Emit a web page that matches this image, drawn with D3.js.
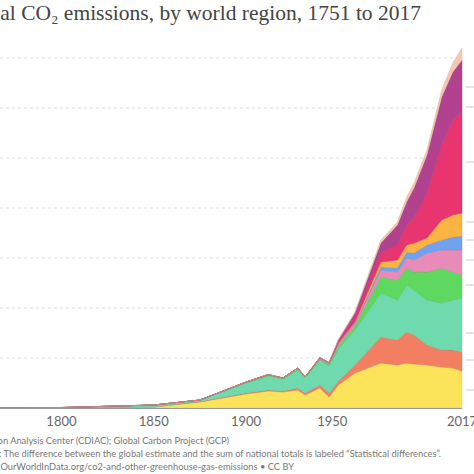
<!DOCTYPE html>
<html>
<head>
<meta charset="utf-8">
<script src="https://cdn.jsdelivr.net/npm/d3@7"></script>
<style>
  body { margin: 0; background: #fff; }
  svg { display: block; }
</style>
</head>
<body>
<div id="chart"></div>
<script>
// values in units of ~140 Mt CO2
const years = [1751, 1800, 1850, 1875, 1900, 1912, 1920, 1928, 1932, 1940, 1945, 1950, 1959, 1973, 1982, 1987, 1991, 1998, 2006, 2012, 2017]
const regions = ["United States", "Europe (other)", "EU-28", "Africa", "Middle East", "South America", "India", "China", "Asia (other)", "International transport"]
const colors = ["#fbe35a", "#f37f62", "#6fdaae", "#5fd85f", "#e98bb8", "#6fa3f0", "#fbb444", "#e9356f", "#b2428f", "#f6c7ae"]
const usa      = [0, 0, 1, 6, 14, 17, 16, 18, 13, 20, 11, 23, 35, 45, 43, 45, 44, 43, 41, 40, 37]
const euOther  = [0, 0, 0, 0.5, 1, 1, 1, 2, 2, 3, 4, 4, 8, 26, 25, 31, 29, 20, 17, 18, 19]
const eu28     = [0.1, 0.5, 2, 1.5, 10, 14, 12, 18, 15, 25, 27, 32, 35, 44, 40, 47, 45, 45, 47, 50, 54]
const africa   = [0, 0, 0, 0, 0.5, 1, 1, 1, 1, 1, 2, 3, 4, 16, 20, 17, 18, 28, 35, 28, 23]
const midEast  = [0, 0, 0, 0, 0.5, 0.5, 0, 1, 0, 1, 1, 2, 2, 7, 8, 10, 12, 19, 18, 22, 25]
const southAm  = [0, 0, 0, 0, 0, 0, 0, 0, 0, 0, 0, 0.5, 1, 3, 4, 6, 7, 8, 10, 13, 14]
const india    = [0, 0, 0, 0, 0, 0, 0, 0, 0, 0, 0, 0.5, 1, 5, 8, 7, 10, 7, 20, 22, 23]
const china    = [0, 0, 0, 0, 0, 0, 0, 0, 0, 0.5, 0.5, 2, 5, 9, 15, 20, 25, 45, 75, 95, 101]
const asiaOth  = [0, 0, 0, 0, 0, 0, 0, 0, 0, 0, 0, 1, 4, 10, 20, 23, 30, 38, 48, 48, 52]
const transport= [0, 0, 0, 0, 0, 0, 0, 0, 0, 0, 0, 0.5, 1, 3, 3, 5, 5, 5, 7, 9, 12]
const series = [usa, euOther, eu28, africa, midEast, southAm, india, china, asiaOth, transport]
const xTicks = [1800, 1850, 1900, 1950, 2017]
const gridTicks = [50, 100, 150, 200, 250, 300, 350]
const legendMarks = [87, 107, 162, 222, 240, 260, 285, 333, 360, 390]

const W = 474, H = 474
const svg = d3.select("#chart").append("svg").attr("width", W).attr("height", H)

const table = years.map((yr, i) => {
    const row = { year: yr }
    regions.forEach((r, j) => row[r] = series[j][i])
    return row
})

const x = d3.scaleLinear().domain([1751, 2017]).range([-29, 462])
const y = d3.scaleLinear().domain([0, 357]).range([408, 51])

svg.append("g").selectAll("line").data(gridTicks).join("line")
    .attr("x1", 0).attr("x2", 462)
    .attr("y1", d => y(d)).attr("y2", d => y(d))
    .attr("stroke", "#ddd").attr("stroke-dasharray", "3,3")

const stack = d3.stack().keys(regions)(table)
const area = d3.area()
    .x(d => x(d.data.year))
    .y0(d => y(d[0]))
    .y1(d => y(d[1]))

svg.append("g").selectAll("path").data(stack).join("path")
    .attr("d", area)
    .attr("fill", (d, i) => colors[i])
    .attr("stroke", (d, i) => d3.color(colors[i]).darker(0.4))
    .attr("stroke-width", 0.4)

svg.append("line").attr("x1", 0).attr("x2", 462)
    .attr("y1", 408.5).attr("y2", 408.5).attr("stroke", "#999")

svg.append("g").selectAll("line").data(legendMarks).join("line")
    .attr("x1", 466).attr("x2", 474)
    .attr("y1", d => d).attr("y2", d => d)
    .attr("stroke", "#ccc")

svg.append("g").selectAll("text").data(xTicks).join("text")
    .attr("x", d => x(d) - (d === 1950 ? 6 : 0))
    .attr("y", 426)
    .attr("text-anchor", "middle")
    .attr("font-family", "Lato, 'Open Sans', sans-serif")
    .attr("font-size", 13)
    .attr("fill", "#666")
    .text(d => d)

svg.append("text")
    .attr("x", 421).attr("y", 20)
    .attr("text-anchor", "end")
    .attr("font-family", "'Liberation Serif', 'DejaVu Serif', serif")
    .attr("font-size", 21.5)
    .attr("fill", "#444")
    .text("Annual CO₂ emissions, by world region, 1751 to 2017")

const notes = [
    ["Source: Carbon Dioxide Information Analysis Center (CDIAC); Global Carbon Project (GCP)", 229, 444],
    ["Note: The difference between the global estimate and the sum of national totals is labeled “Statistical differences”.", 441, 457],
    ["OurWorldInData.org/co2-and-other-greenhouse-gas-emissions • CC BY", 294, 470]
]
svg.append("g").selectAll("text").data(notes).join("text")
    .attr("x", d => d[1]).attr("y", d => d[2])
    .attr("text-anchor", "end")
    .attr("font-family", "Lato, sans-serif")
    .attr("font-size", 9.3)
    .attr("fill", "#777")
    .text(d => d[0])
</script>
</body>
</html>
